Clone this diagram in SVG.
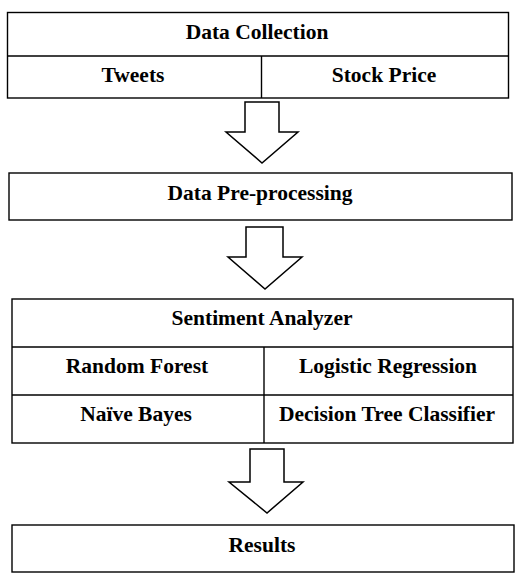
<svg xmlns="http://www.w3.org/2000/svg" width="524" height="586" viewBox="0 0 524 586">
<style>
.box{fill:#fff;stroke:#000;stroke-width:1.4}
.ln{stroke:#000;stroke-width:1.4;fill:none}
.arr{fill:#fff;stroke:#000;stroke-width:1.5;stroke-linejoin:miter}
text{font-family:"Liberation Serif","Times New Roman",serif;font-weight:bold;font-size:21.5px;text-anchor:middle;fill:#000}
</style>
<rect width="524" height="586" fill="#fff"/>
<g id="data-collection">
<rect class="box" x="7.5" y="12.5" width="501" height="85.5"/>
<line class="ln" x1="7.5" y1="56" x2="508.5" y2="56"/>
<line class="ln" x1="261.5" y1="56" x2="261.5" y2="98"/>
<text x="257" y="39">Data Collection</text>
<text x="133" y="82">Tweets</text>
<text x="384" y="82">Stock Price</text>
</g>
<g id="data-preprocessing">
<rect class="box" x="9" y="173" width="503" height="47"/>
<text x="260" y="200">Data Pre-processing</text>
</g>
<g id="sentiment-analyzer">
<rect class="box" x="12" y="299" width="501" height="144"/>
<line class="ln" x1="12" y1="347" x2="513" y2="347"/>
<line class="ln" x1="12" y1="395" x2="513" y2="395"/>
<line class="ln" x1="264" y1="347" x2="264" y2="443"/>
<text x="262" y="325">Sentiment Analyzer</text>
<text x="137" y="373">Random Forest</text>
<text x="388" y="373">Logistic Regression</text>
<text x="136" y="421">Naïve Bayes</text>
<text x="387" y="421">Decision Tree Classifier</text>
</g>
<g id="results">
<rect class="box" x="12" y="525" width="502" height="47"/>
<text x="262" y="552">Results</text>
</g>
<g id="connectors">
<polygon class="arr" points="245,102 279,102 279,132 298,132 262,163 226,132 245,132"/>
<polygon class="arr" points="246,227 283,227 283,257 302,257 265,289 228,257 246,257"/>
<polygon class="arr" points="250,449 284,449 284,482 303,482 267,513 229,482 250,482"/>
</g>
</svg>
